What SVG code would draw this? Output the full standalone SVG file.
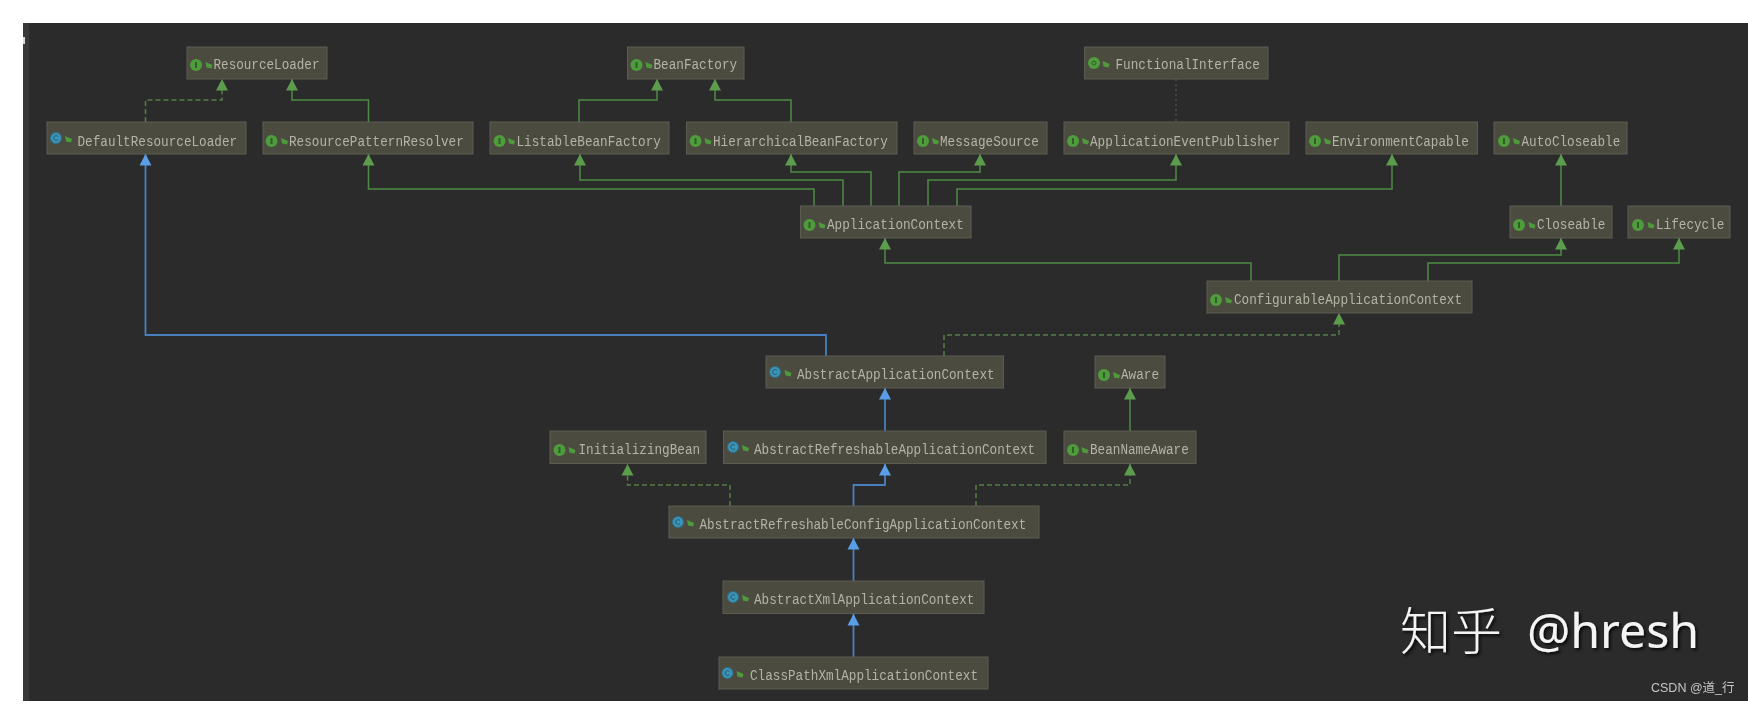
<svg xmlns="http://www.w3.org/2000/svg" xmlns:xlink="http://www.w3.org/1999/xlink" width="1748" height="704" viewBox="0 0 1748 704">
<style>
.b{fill:#4c4b40;stroke:#5d5c52;stroke-width:1}
.t{font-family:"Liberation Mono",monospace;font-size:15.500px;fill:#b4b4a6}
.g{fill:none;stroke:#4e8a46;stroke-width:1.500}
.gd{fill:none;stroke:#567f45;stroke-width:1.500;stroke-dasharray:5 3}
.d{fill:none;stroke:#4f5a44;stroke-width:1.200;stroke-dasharray:2 3}
.u{fill:none;stroke:#4a7fbe;stroke-width:1.800}
.wm{font-family:"Noto Sans CJK SC","Noto Sans",sans-serif;fill:#f4f4f4}
</style>
<defs>
<filter id="soft" x="-5%" y="-20%" width="110%" height="140%"><feGaussianBlur stdDeviation="0.55"/></filter>
<filter id="shadow" x="-5%" y="-20%" width="110%" height="140%"><feDropShadow dx="2" dy="2" stdDeviation="1.500" flood-color="#000" flood-opacity="0.8"/></filter>
<marker id="ag" markerUnits="userSpaceOnUse" markerWidth="14" markerHeight="14" viewBox="0 0 14 14" refX="13" refY="7" orient="auto"><path d="M1.500 1L13 7L1.500 13Z" fill="#5c9c4e"/></marker>
<marker id="ab" markerUnits="userSpaceOnUse" markerWidth="14" markerHeight="14" viewBox="0 0 14 14" refX="13" refY="7" orient="auto"><path d="M1.500 1L13 7L1.500 13Z" fill="#5a9ee8"/></marker>
<g id="leaf"><path d="M-3.500-3L3.500 0L2.500 3.500L-2.500 2.500Z" fill="#4f9a3c"/></g>
<g id="ii"><circle r="6" fill="#4f9c3c"/><rect x="-1" y="-3" width="2" height="6" fill="#2f5f28"/></g>
<g id="ci"><circle r="5.500" fill="#3c93b4" stroke="#2c6f8c" stroke-width="1"/><path d="M2-1.500A2.400 2.400 0 1 0 2 1.500" fill="none" stroke="#1f5f78" stroke-width="1"/></g>
<g id="ai"><circle r="6" fill="#4f9c3c"/><circle r="2" fill="none" stroke="#2f5f28" stroke-width="1"/></g>
</defs>
<rect x="0" y="0" width="1748" height="704" fill="#ffffff"/>
<rect x="23" y="23" width="1725" height="678" fill="#2b2b2b"/>
<rect x="23" y="23" width="6" height="678" fill="#373737"/>
<rect x="23" y="37" width="2" height="7" fill="#d8d8d8"/>
<g id="connectors" filter="url(#soft)">
<path class="gd" marker-end="url(#ag)" d="M145.500 122V100H222V79"/>
<path class="g" marker-end="url(#ag)" d="M368.500 122V100H292V79"/>
<path class="g" marker-end="url(#ag)" d="M579 122V100H657V79"/>
<path class="g" marker-end="url(#ag)" d="M791 122V100H715V79"/>
<path class="d" d="M1176 79V122"/>
<path class="g" marker-end="url(#ag)" d="M814 206V189H368.500V154"/>
<path class="g" marker-end="url(#ag)" d="M843 206V180H580V154"/>
<path class="g" marker-end="url(#ag)" d="M871 206V172H791V154"/>
<path class="g" marker-end="url(#ag)" d="M899 206V172H980V154"/>
<path class="g" marker-end="url(#ag)" d="M928 206V180H1176V154"/>
<path class="g" marker-end="url(#ag)" d="M957 206V189H1392V154"/>
<path class="g" marker-end="url(#ag)" d="M1561 206V154"/>
<path class="g" marker-end="url(#ag)" d="M1251 281V263H885V238"/>
<path class="g" marker-end="url(#ag)" d="M1339 281V255H1561V238"/>
<path class="g" marker-end="url(#ag)" d="M1428 281V263H1679V238"/>
<path class="gd" marker-end="url(#ag)" d="M944 356V335H1339V313"/>
<path class="u" marker-end="url(#ab)" d="M826 356V335H145.500V154"/>
<path class="u" marker-end="url(#ab)" d="M885 431V388"/>
<path class="u" marker-end="url(#ab)" d="M853.500 506V485H885V464"/>
<path class="gd" marker-end="url(#ag)" d="M730 506V485H627.500V464"/>
<path class="gd" marker-end="url(#ag)" d="M976 506V485H1130V464"/>
<path class="g" marker-end="url(#ag)" d="M1130 431V388"/>
<path class="u" marker-end="url(#ab)" d="M853.500 581V538"/>
<path class="u" marker-end="url(#ab)" d="M853.500 657V614"/>
</g>
<g filter="url(#soft)">
<g id="ResourceLoader"><rect class="b" x="187" y="47" width="140" height="32"/><use href="#ii" x="196" y="65"/><use href="#leaf" x="209" y="65"/><text class="t" x="213.500" y="69" textLength="106" lengthAdjust="spacingAndGlyphs">ResourceLoader</text></g>
<g id="BeanFactory"><rect class="b" x="627.500" y="47" width="116.500" height="32"/><use href="#ii" x="636.500" y="65"/><use href="#leaf" x="649" y="65"/><text class="t" x="653.500" y="69" textLength="83.600" lengthAdjust="spacingAndGlyphs">BeanFactory</text></g>
<g id="FunctionalInterface"><rect class="b" x="1084.500" y="47" width="183.500" height="32"/><use href="#ai" x="1094" y="63"/><use href="#leaf" x="1106" y="64"/><text class="t" x="1115.500" y="69" textLength="144.400" lengthAdjust="spacingAndGlyphs">FunctionalInterface</text></g>
<g id="DefaultResourceLoader"><rect class="b" x="47" y="122" width="199" height="32"/><use href="#ci" x="56" y="138"/><use href="#leaf" x="68.500" y="139"/><text class="t" x="77.500" y="146" textLength="159.600" lengthAdjust="spacingAndGlyphs">DefaultResourceLoader</text></g>
<g id="ResourcePatternResolver"><rect class="b" x="263" y="122" width="210" height="32"/><use href="#ii" x="271.500" y="141"/><use href="#leaf" x="284.500" y="141"/><text class="t" x="289" y="146" textLength="174.800" lengthAdjust="spacingAndGlyphs">ResourcePatternResolver</text></g>
<g id="ListableBeanFactory"><rect class="b" x="490" y="122" width="179" height="32"/><use href="#ii" x="499.500" y="141"/><use href="#leaf" x="511.500" y="141"/><text class="t" x="516.500" y="146" textLength="144.400" lengthAdjust="spacingAndGlyphs">ListableBeanFactory</text></g>
<g id="HierarchicalBeanFactory"><rect class="b" x="686.500" y="122" width="210.500" height="32"/><use href="#ii" x="695.500" y="141"/><use href="#leaf" x="708" y="141"/><text class="t" x="713" y="146" textLength="174.800" lengthAdjust="spacingAndGlyphs">HierarchicalBeanFactory</text></g>
<g id="MessageSource"><rect class="b" x="914" y="122" width="133" height="32"/><use href="#ii" x="923" y="141"/><use href="#leaf" x="935.500" y="141"/><text class="t" x="940" y="146" textLength="98.800" lengthAdjust="spacingAndGlyphs">MessageSource</text></g>
<g id="ApplicationEventPublisher"><rect class="b" x="1064" y="122" width="225" height="32"/><use href="#ii" x="1073" y="141"/><use href="#leaf" x="1085.500" y="141"/><text class="t" x="1090" y="146" textLength="190" lengthAdjust="spacingAndGlyphs">ApplicationEventPublisher</text></g>
<g id="EnvironmentCapable"><rect class="b" x="1306" y="122" width="171.500" height="32"/><use href="#ii" x="1315" y="141"/><use href="#leaf" x="1327.500" y="141"/><text class="t" x="1332" y="146" textLength="136.800" lengthAdjust="spacingAndGlyphs">EnvironmentCapable</text></g>
<g id="AutoCloseable"><rect class="b" x="1494" y="122" width="133" height="32"/><use href="#ii" x="1504" y="141"/><use href="#leaf" x="1516.500" y="141"/><text class="t" x="1521.500" y="146" textLength="98.800" lengthAdjust="spacingAndGlyphs">AutoCloseable</text></g>
<g id="ApplicationContext"><rect class="b" x="800.500" y="206" width="170.500" height="32"/><use href="#ii" x="809.500" y="225"/><use href="#leaf" x="822" y="225"/><text class="t" x="827" y="229" textLength="136.800" lengthAdjust="spacingAndGlyphs">ApplicationContext</text></g>
<g id="Closeable"><rect class="b" x="1510" y="206" width="102" height="32"/><use href="#ii" x="1519" y="225"/><use href="#leaf" x="1532" y="225"/><text class="t" x="1537" y="229" textLength="68.400" lengthAdjust="spacingAndGlyphs">Closeable</text></g>
<g id="Lifecycle"><rect class="b" x="1628" y="206" width="102" height="32"/><use href="#ii" x="1638" y="225"/><use href="#leaf" x="1651" y="225"/><text class="t" x="1656" y="229" textLength="68.400" lengthAdjust="spacingAndGlyphs">Lifecycle</text></g>
<g id="ConfigurableApplicationContext"><rect class="b" x="1207" y="281" width="265" height="32"/><use href="#ii" x="1216" y="300"/><use href="#leaf" x="1228.500" y="300"/><text class="t" x="1234" y="304" textLength="228" lengthAdjust="spacingAndGlyphs">ConfigurableApplicationContext</text></g>
<g id="AbstractApplicationContext"><rect class="b" x="766" y="356" width="237.500" height="32"/><use href="#ci" x="775" y="372"/><use href="#leaf" x="788" y="373"/><text class="t" x="797" y="379" textLength="197.600" lengthAdjust="spacingAndGlyphs">AbstractApplicationContext</text></g>
<g id="Aware"><rect class="b" x="1095" y="356" width="70" height="32"/><use href="#ii" x="1104" y="375"/><use href="#leaf" x="1116.500" y="375"/><text class="t" x="1121" y="379" textLength="38" lengthAdjust="spacingAndGlyphs">Aware</text></g>
<g id="InitializingBean"><rect class="b" x="550" y="431" width="156" height="32.500"/><use href="#ii" x="559.500" y="450"/><use href="#leaf" x="572" y="450"/><text class="t" x="578.500" y="454" textLength="121.600" lengthAdjust="spacingAndGlyphs">InitializingBean</text></g>
<g id="AbstractRefreshableApplicationContext"><rect class="b" x="723.500" y="431" width="322.500" height="32.500"/><use href="#ci" x="733" y="447"/><use href="#leaf" x="745.500" y="448"/><text class="t" x="754" y="454" textLength="281.200" lengthAdjust="spacingAndGlyphs">AbstractRefreshableApplicationContext</text></g>
<g id="BeanNameAware"><rect class="b" x="1064" y="431" width="132" height="32.500"/><use href="#ii" x="1073" y="450"/><use href="#leaf" x="1085" y="450"/><text class="t" x="1090" y="454" textLength="98.800" lengthAdjust="spacingAndGlyphs">BeanNameAware</text></g>
<g id="AbstractRefreshableConfigApplicationContext"><rect class="b" x="669" y="506" width="370" height="32"/><use href="#ci" x="678" y="522"/><use href="#leaf" x="690.500" y="523"/><text class="t" x="699.500" y="529" textLength="326.800" lengthAdjust="spacingAndGlyphs">AbstractRefreshableConfigApplicationContext</text></g>
<g id="AbstractXmlApplicationContext"><rect class="b" x="723" y="581" width="261" height="32.500"/><use href="#ci" x="733" y="597"/><use href="#leaf" x="745.500" y="598"/><text class="t" x="754" y="604" textLength="220.400" lengthAdjust="spacingAndGlyphs">AbstractXmlApplicationContext</text></g>
<g id="ClassPathXmlApplicationContext"><rect class="b" x="719" y="657" width="269" height="32"/><use href="#ci" x="727.500" y="673"/><use href="#leaf" x="740" y="674"/><text class="t" x="750" y="680" textLength="228" lengthAdjust="spacingAndGlyphs">ClassPathXmlApplicationContext</text></g>
</g>
<g id="watermark">
<text class="wm" x="1400" y="650" font-size="51" font-weight="300" filter="url(#shadow)">知乎</text>
<text x="1527" y="648" font-family="'Noto Sans',sans-serif" fill="#f4f4f4" font-size="48" filter="url(#shadow)" textLength="172" lengthAdjust="spacingAndGlyphs">@hresh</text>
<text x="1651" y="692" font-family="'Liberation Sans','Noto Sans CJK SC',sans-serif" font-size="12.500" fill="#c4c4c4">CSDN @道_行</text>
</g>
</svg>
